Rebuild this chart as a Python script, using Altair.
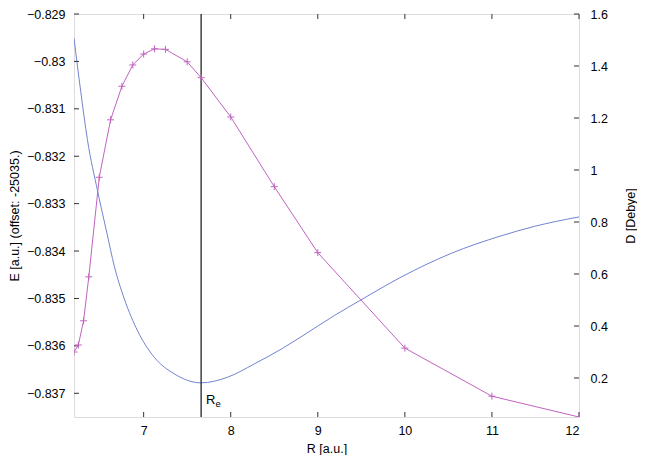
import altair as alt
import pandas as pd

# Energy curve (left axis), E [a.u.] offset -25035
e_r = [6.2, 6.277, 6.354, 6.472, 6.579, 6.663, 6.778, 6.932, 7.122, 7.352, 7.659,
       7.965, 8.271, 8.578, 8.807, 9.19, 9.496, 9.956, 10.53, 11.104, 11.487, 12.0]
e_val = [-0.82951, -0.83063, -0.83165, -0.83274, -0.83363, -0.83432, -0.83501, -0.83569,
         -0.83624, -0.83659, -0.83678, -0.83666, -0.83638, -0.83607, -0.83581, -0.83536,
         -0.83503, -0.83455, -0.83405, -0.83368, -0.83348, -0.83328]

# Dipole moment (right axis), D [Debye]
d_r = [6.2, 6.25, 6.31, 6.37, 6.49, 6.62, 6.75, 6.875, 7.0, 7.125, 7.25, 7.5, 7.66,
       8.0, 8.5, 9.0, 10.0, 11.0, 12.0]
d_val = [0.30, 0.327, 0.42, 0.589, 0.972, 1.193, 1.322, 1.404, 1.446, 1.466, 1.464,
         1.416, 1.355, 1.204, 0.936, 0.682, 0.315, 0.130, 0.05]

re_x = [7.66]
re_label_y = [-0.83722]

x_ticks = [7, 8, 9, 10, 11, 12]
e_ticks = [-0.837, -0.836, -0.835, -0.834, -0.833, -0.832, -0.831, -0.830, -0.829]
d_ticks = [0.2, 0.4, 0.6, 0.8, 1.0, 1.2, 1.4, 1.6]

W, H = 505, 403
FONT = "Liberation Sans"
FS = 12.5
BLUE = "#7383d0"
PURPLE = "#c064c0"
AX = "#333333"

e_df = pd.DataFrame({"R": e_r, "E": e_val})
d_df = pd.DataFrame({"R": d_r, "D": d_val})
re_df = pd.DataFrame({"R": re_x, "E": re_label_y})
xt_df = pd.DataFrame({"R": x_ticks})
et_df = pd.DataFrame({"E": e_ticks})
dt_df = pd.DataFrame({"D": d_ticks})

xscale = alt.Scale(domain=[6.2, 12], nice=False, zero=False)
escale = alt.Scale(domain=[-0.8375, -0.829], nice=False, zero=False)
dscale = alt.Scale(domain=[0.05, 1.6], nice=False, zero=False)

xaxis = alt.Axis(values=x_ticks, format="d", title="R [a.u.]", ticks=False, tickSize=0,
                 domain=False, grid=False, labelPadding=7, titlePadding=6, labelFont=FONT,
                 titleFont=FONT, labelFontSize=FS, titleFontSize=FS, labelColor="black",
                 titleColor="black", titleFontWeight="normal")
eaxis = alt.Axis(values=e_ticks, format=".3~f", title="E [a.u.] (offset: -25035.)",
                 ticks=False, tickSize=0, domain=False, grid=False, labelPadding=9,
                 titlePadding=5, labelFont=FONT, titleFont=FONT, labelFontSize=FS,
                 titleFontSize=FS, labelColor="black", titleColor="black",
                 titleFontWeight="normal")
daxis = alt.Axis(values=d_ticks, format=".1~f", title="D [Debye]", orient="right",
                 ticks=False, tickSize=0, domain=False, grid=False, labelPadding=11,
                 titlePadding=30, titleAngle=270, titleBaseline="bottom",
                 labelFont=FONT, titleFont=FONT,
                 labelFontSize=FS, titleFontSize=FS, labelColor="black", titleColor="black",
                 titleFontWeight="normal")

energy = alt.Chart(e_df).mark_line(color=BLUE, strokeWidth=1, interpolate="monotone",
                                    clip=True).encode(
    x=alt.X("R:Q", scale=xscale, axis=xaxis),
    y=alt.Y("E:Q", scale=escale, axis=eaxis),
)

vline = alt.Chart(re_df).mark_rule(color="#222222", strokeWidth=1.3).encode(
    x=alt.X("R:Q", scale=xscale),
    y=alt.value(0), y2=alt.value(H),
)

re_text = alt.Chart(re_df).mark_text(text="R", align="left", baseline="alphabetic", dx=5,
                                     font=FONT, fontSize=13, color="black").encode(
    x=alt.X("R:Q", scale=xscale), y=alt.Y("E:Q", scale=escale),
)
re_sub = alt.Chart(re_df).mark_text(text="e", align="left", baseline="alphabetic", dx=14.5,
                                    dy=3.5, font=FONT, fontSize=9.5, color="black").encode(
    x=alt.X("R:Q", scale=xscale), y=alt.Y("E:Q", scale=escale),
)

xt_bottom = alt.Chart(xt_df).mark_rule(color=AX, strokeWidth=1).encode(
    x=alt.X("R:Q", scale=xscale), y=alt.value(H), y2=alt.value(H - 5))
xt_top = alt.Chart(xt_df).mark_rule(color=AX, strokeWidth=1).encode(
    x=alt.X("R:Q", scale=xscale), y=alt.value(0), y2=alt.value(5))
et_left = alt.Chart(et_df).mark_rule(color=AX, strokeWidth=1).encode(
    y=alt.Y("E:Q", scale=escale), x=alt.value(0), x2=alt.value(5))

left = alt.layer(energy, vline, re_text, re_sub, xt_bottom, xt_top, et_left)

dip_line = alt.Chart(d_df).mark_line(color=PURPLE, strokeWidth=1, clip=True).encode(
    x=alt.X("R:Q", scale=xscale),
    y=alt.Y("D:Q", scale=dscale, axis=daxis),
)
dip_pts = alt.Chart(d_df).mark_point(shape="M-1,0L1,0M0,-1L0,1", size=49, filled=False,
                                     color=PURPLE, strokeWidth=1, opacity=1, clip=True).encode(
    x=alt.X("R:Q", scale=xscale),
    y=alt.Y("D:Q", scale=dscale),
)
dt_right = alt.Chart(dt_df).mark_rule(color=AX, strokeWidth=1).encode(
    y=alt.Y("D:Q", scale=dscale), x=alt.value(W - 5), x2=alt.value(W))

right = alt.layer(dip_line, dip_pts, dt_right)

chart = alt.layer(left, right).resolve_scale(y="independent").properties(
    width=W, height=H, padding={"left": 0, "top": 0, "right": 0, "bottom": 0}
).configure_view(stroke=AX, strokeWidth=1.3).configure(background="white")

chart.save("out.html", embed_options={"renderer": "svg", "actions": False})
